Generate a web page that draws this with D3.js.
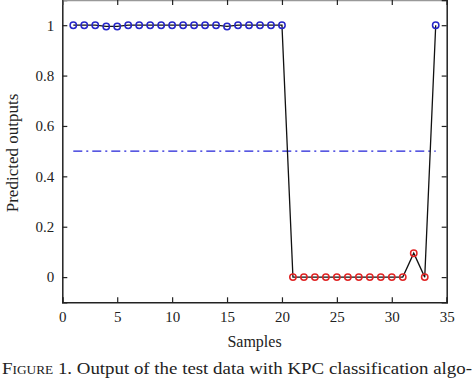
<!DOCTYPE html>
<html>
<head>
<meta charset="utf-8">
<script src="https://cdn.jsdelivr.net/npm/d3@7"></script>
<style>
  body { margin: 0; background: #fff; }
  text { font-family: "Liberation Serif", "DejaVu Serif", serif; fill: #222; }
</style>
</head>
<body>
<script>
var width = 474,
    height = 379;

// samples 1..20 predicted class 1, 21..33 class 0, 34 class 1
var samples = d3.range(1, 35);
var outputs = [1, 1, 1, 0.995, 0.995, 1, 1, 1, 1, 1, 1, 1, 1, 1, 0.995, 1, 1, 1, 1, 1,
               0, 0, 0, 0, 0, 0, 0, 0, 0, 0, 0, 0.095, 0, 1];
var threshold = 0.5;
var xTicks = [0, 5, 10, 15, 20, 25, 30, 35];
var yTicks = [0, 0.2, 0.4, 0.6, 0.8, 1];

var data = samples.map(function(s, i) { return {x: s, y: outputs[i]}; });

var margin = {left: 62.3, right: 27.3, top: 0, bottom: 76.7};

var x = d3.scaleLinear()
    .domain([0, 35])
    .range([margin.left, width - margin.right]);

var y = d3.scaleLinear()
    .domain([-0.1, 1.1])
    .range([height - margin.bottom, margin.top]);

var svg = d3.select("body").append("svg")
    .attr("width", width)
    .attr("height", height);

function styleAxis(g, domainColor) {
  g.select(".domain").attr("stroke", domainColor).attr("stroke-width", 1.5);
  g.selectAll(".tick line").attr("stroke", "#222").attr("stroke-width", 1.2);
  g.selectAll(".tick text").attr("font-size", 15).attr("fill", "#222");
}

// axes with inward ticks on all four sides
var tick = 5;
svg.append("g")
    .attr("transform", "translate(0," + y(-0.1) + ")")
    .call(d3.axisBottom(x).tickValues(xTicks).tickSize(-tick).tickPadding(9).tickFormat(d3.format("d")))
    .call(styleAxis, "#222");

svg.append("g")
    .attr("transform", "translate(" + x(0) + ",0)")
    .call(d3.axisLeft(y).tickValues(yTicks).tickSize(-tick).tickPadding(8)
      .tickFormat(function(d) { return d === 0 || d === 1 ? d3.format("d")(d) : d3.format(".1f")(d); }))
    .call(styleAxis, "#222");

svg.append("g")
    .attr("transform", "translate(0," + y(1.1) + ")")
    .call(d3.axisTop(x).tickValues(xTicks).tickSize(-tick).tickFormat(""))
    .call(styleAxis, "#999");

svg.append("g")
    .attr("transform", "translate(" + x(35) + ",0)")
    .call(d3.axisRight(y).tickValues(yTicks).tickSize(-tick).tickFormat(""))
    .call(styleAxis, "#222");

// threshold line
svg.append("line")
    .attr("x1", x(samples[0]))
    .attr("x2", x(samples[samples.length - 1]))
    .attr("y1", y(threshold))
    .attr("y2", y(threshold))
    .attr("stroke", "#2222d8")
    .attr("stroke-width", 1.2)
    .attr("stroke-dasharray", "9,4,2,4");

// output curve
var line = d3.line()
    .x(function(d) { return x(d.x); })
    .y(function(d) { return y(d.y); });

svg.append("path")
    .datum(data)
    .attr("d", line)
    .attr("fill", "none")
    .attr("stroke", "#111")
    .attr("stroke-width", 1.3);

svg.selectAll("circle.pt")
    .data(data)
  .enter().append("circle")
    .attr("class", "pt")
    .attr("cx", function(d) { return x(d.x); })
    .attr("cy", function(d) { return y(d.y); })
    .attr("r", 3.2)
    .attr("fill", "none")
    .attr("stroke", function(d) { return d.y > threshold ? "#2626c8" : "#e02424"; })
    .attr("stroke-width", 1.5);

// labels
svg.append("text")
    .attr("x", x(17.5))
    .attr("y", 347)
    .attr("text-anchor", "middle")
    .attr("font-size", 16)
    .text("Samples");

svg.append("text")
    .attr("transform", "translate(18,153) rotate(-90)")
    .attr("text-anchor", "middle")
    .attr("font-size", 17)
    .text("Predicted outputs");

svg.append("text")
    .attr("x", 2)
    .attr("y", 374)
    .attr("font-size", 17)
    .attr("textLength", 470)
    .attr("lengthAdjust", "spacingAndGlyphs")
    .html('<tspan font-variant="small-caps">Figure</tspan> 1. Output of the test data with KPC classification algo-');
</script>
</body>
</html>
